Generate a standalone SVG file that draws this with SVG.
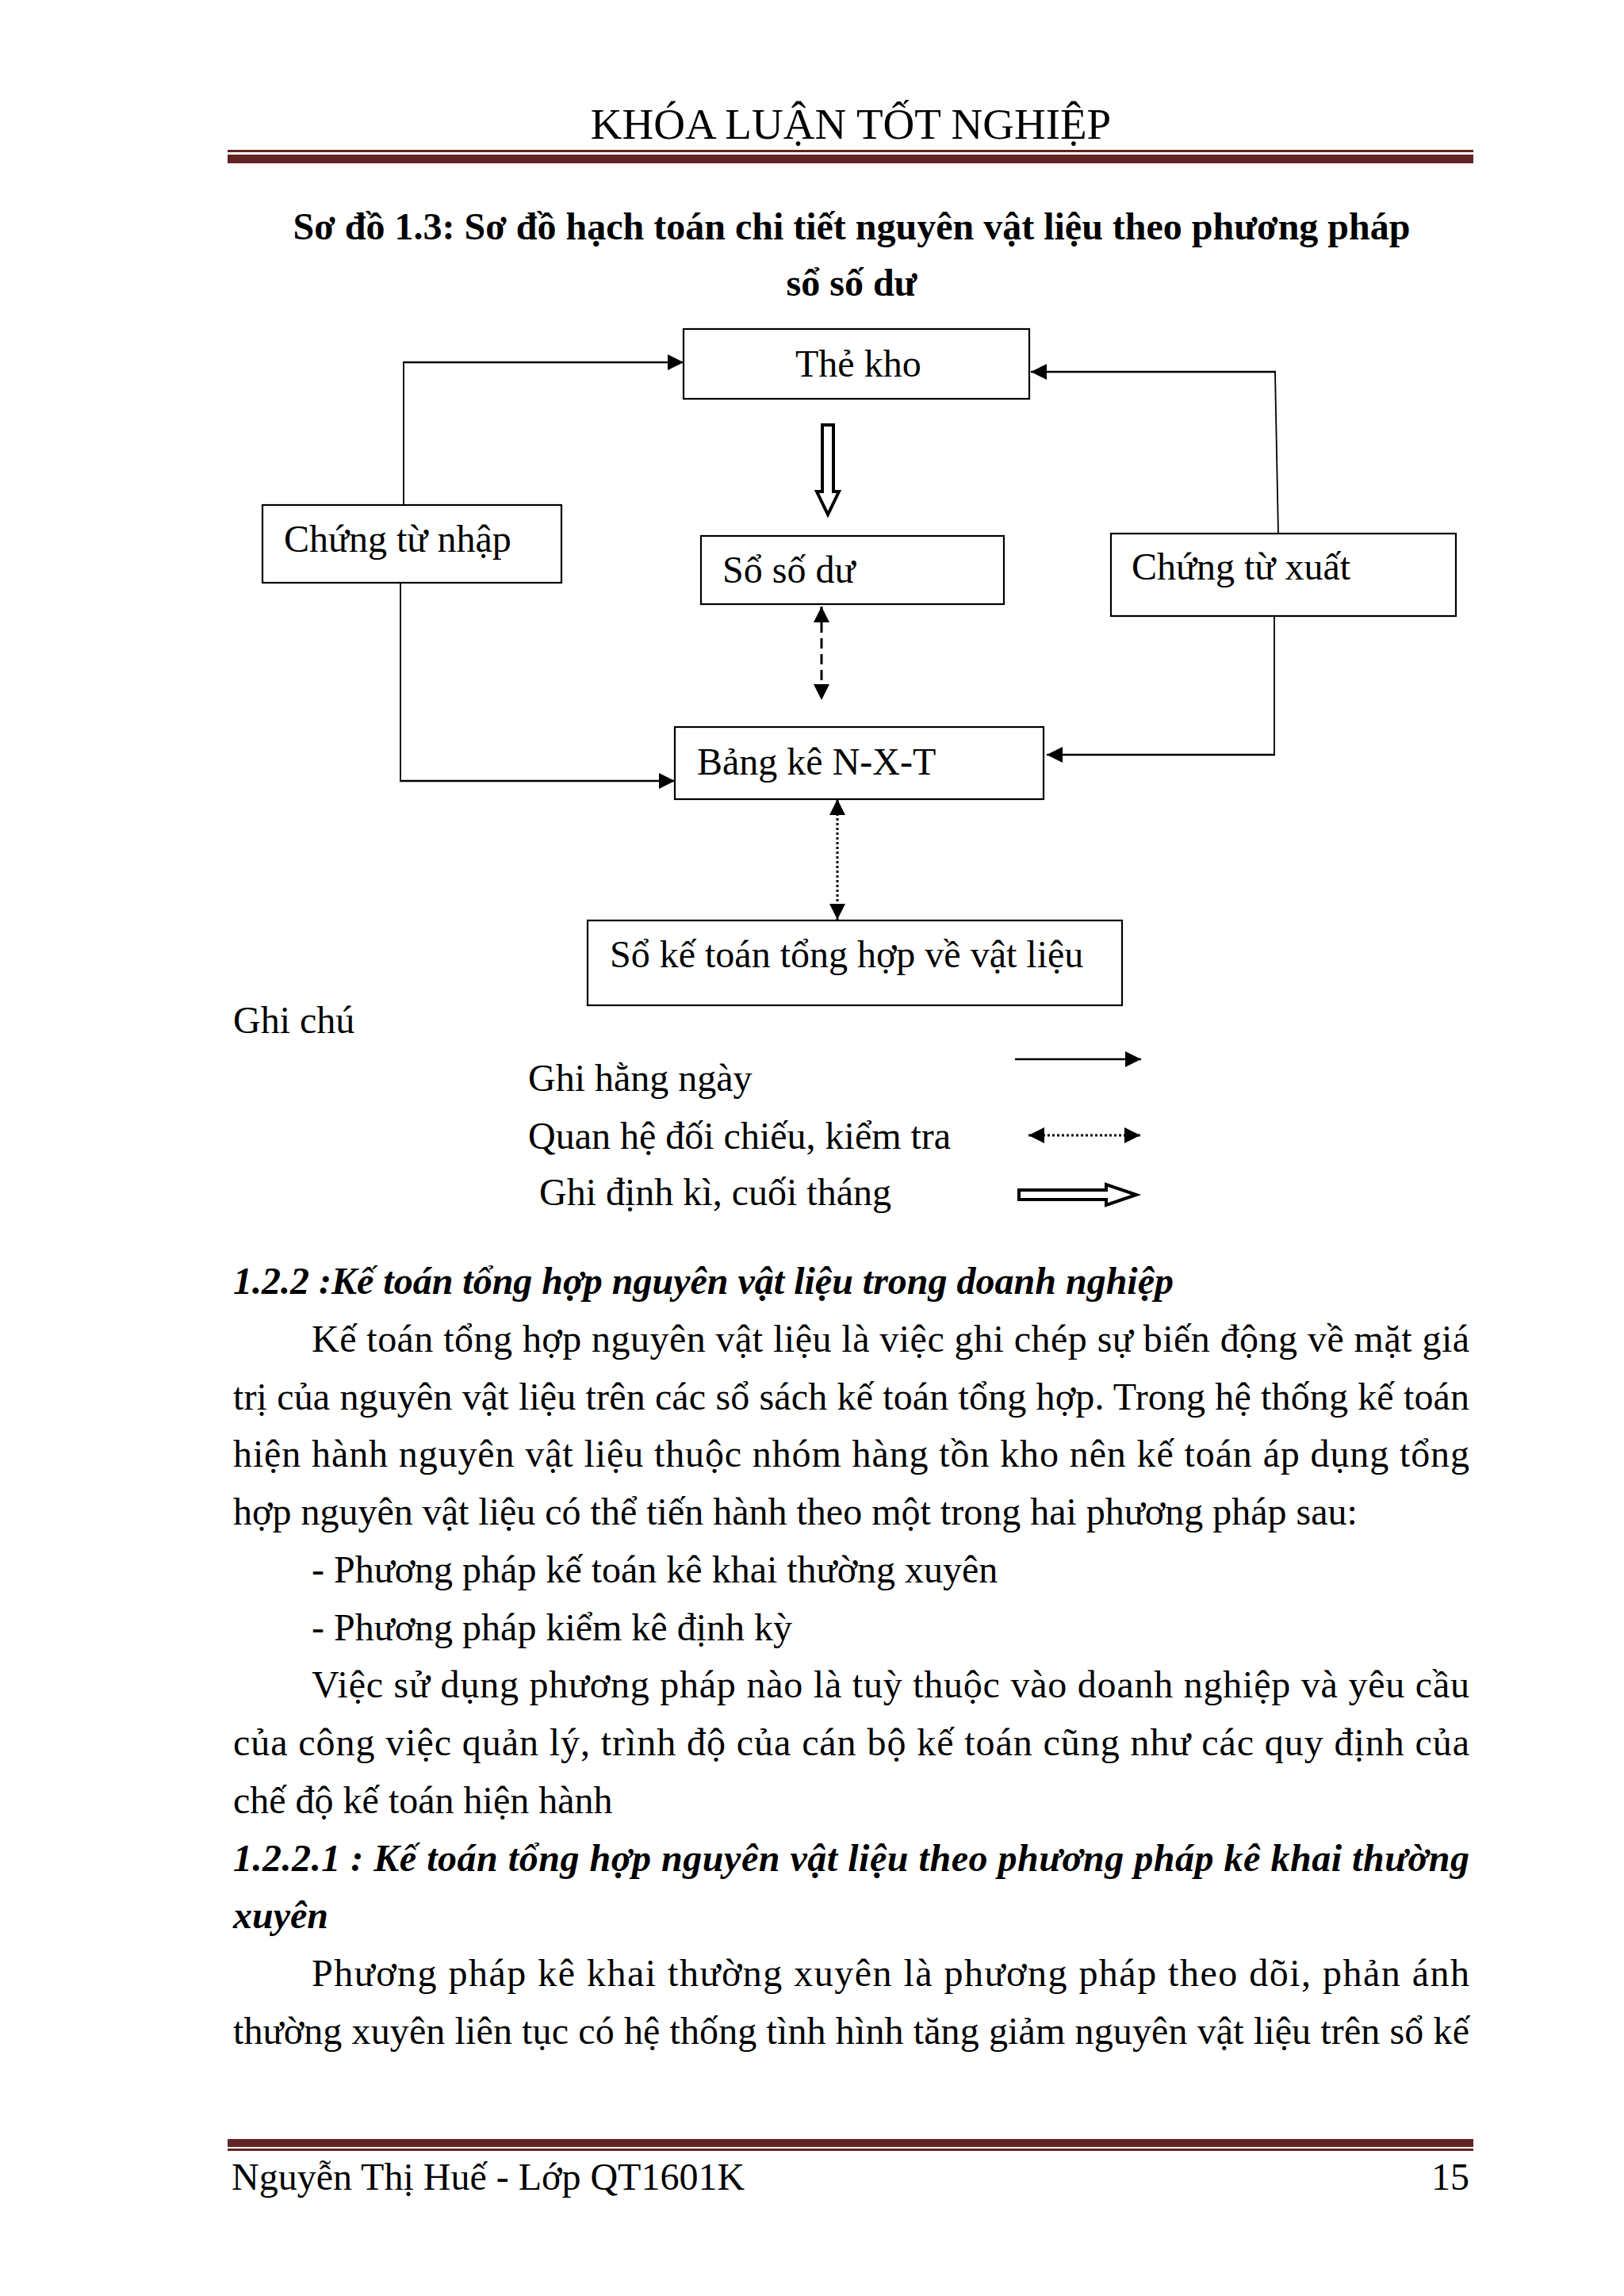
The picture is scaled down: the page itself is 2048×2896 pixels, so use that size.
<svg xmlns="http://www.w3.org/2000/svg" width="2048" height="2896" viewBox="0 0 2048 2896">
<defs>
<style>
.t{font-family:"Liberation Serif","Times New Roman",serif;font-size:48px;fill:#000}
.b{font-weight:bold}
.bi{font-weight:bold;font-style:italic}
.box{fill:#fff;stroke:#000;stroke-width:2.2}
.ln{fill:none;stroke:#000;stroke-width:2.6}
.sl{fill:none;stroke:#000;stroke-width:1.8}
.dash{fill:none;stroke:#000;stroke-width:3;stroke-dasharray:13 7}
.dot{fill:none;stroke:#000;stroke-width:3;stroke-dasharray:3 3}
.hollow{fill:#fff;stroke:#000;stroke-width:4;stroke-linejoin:miter}
.rule{fill:#622423}
</style>
<marker id="ah" markerUnits="userSpaceOnUse" markerWidth="20" markerHeight="20" refX="20" refY="10" orient="auto-start-reverse" viewBox="0 0 20 20">
<path d="M0,0 L20,10 L0,20 z" fill="#000"/>
</marker>
</defs>
<rect width="2048" height="2896" fill="#fff"/>

<!-- header -->
<g id="header">
<text class="t" x="1073" y="175" text-anchor="middle" style="font-size:55px">KHÓA LUẬN TỐT NGHIỆP</text>
<rect class="rule" x="287" y="189" width="1571" height="3"/>
<rect class="rule" x="287" y="195" width="1571" height="11"/>
</g>

<!-- title -->
<g id="title">
<text class="t b" x="1074" y="302" text-anchor="middle">Sơ đồ 1.3: Sơ đồ hạch toán chi tiết nguyên vật liệu theo phương pháp</text>
<text class="t b" x="1074" y="373" text-anchor="middle">sổ số dư</text>
</g>

<!-- connectors -->
<g id="connectors">
<polyline class="sl" points="509,637 509,457"/>
<line class="ln" x1="508" y1="457" x2="862" y2="457" marker-end="url(#ah)"/>
<polyline class="sl" points="1612,673 1608,469"/>
<line class="ln" x1="1609" y1="469" x2="1300" y2="469" marker-end="url(#ah)"/>
<polygon class="hollow" points="1037,536 1051,536 1051,620 1058,620 1044,649 1030,620 1037,620"/>
<line class="dash" x1="1036" y1="765" x2="1036" y2="883" marker-start="url(#ah)" marker-end="url(#ah)"/>
<polyline class="sl" points="505,735 505,985"/>
<line class="ln" x1="504" y1="985" x2="851" y2="985" marker-end="url(#ah)"/>
<polyline class="sl" points="1607,777 1607,952"/>
<line class="ln" x1="1608" y1="952" x2="1320" y2="952" marker-end="url(#ah)"/>
<line class="dot" x1="1056" y1="1008" x2="1056" y2="1160" marker-start="url(#ah)" marker-end="url(#ah)"/>
</g>

<!-- nodes -->
<g id="the-kho">
<rect class="box" x="862" y="415" width="436" height="88"/>
<text class="t" x="1003" y="475">Thẻ kho</text>
</g>
<g id="chung-tu-nhap">
<rect class="box" x="331" y="637" width="377" height="98"/>
<text class="t" x="358" y="696">Chứng từ nhập</text>
</g>
<g id="so-so-du">
<rect class="box" x="884" y="676" width="382" height="86"/>
<text class="t" x="911" y="735">Sổ số dư</text>
</g>
<g id="chung-tu-xuat">
<rect class="box" x="1401" y="673" width="435" height="104"/>
<text class="t" x="1427" y="731">Chứng từ xuất</text>
</g>
<g id="bang-ke">
<rect class="box" x="851" y="917" width="465" height="91"/>
<text class="t" x="879" y="977">Bảng kê N-X-T</text>
</g>
<g id="so-ke-toan">
<rect class="box" x="741" y="1161" width="674" height="107"/>
<text class="t" x="769" y="1220">Sổ kế toán tổng hợp về vật liệu</text>
</g>

<!-- legend -->
<g id="legend">
<text class="t" x="294" y="1303">Ghi chú</text>
<text class="t" x="666" y="1376">Ghi hằng ngày</text>
<text class="t" x="666" y="1449">Quan hệ đối chiếu, kiểm tra</text>
<text class="t" x="680" y="1520">Ghi định kì, cuối tháng</text>
<line class="ln" x1="1280" y1="1336" x2="1439" y2="1336" marker-end="url(#ah)"/>
<line class="dot" x1="1297" y1="1432" x2="1438" y2="1432" marker-start="url(#ah)" marker-end="url(#ah)"/>
<polygon class="hollow" points="1285,1501 1395,1501 1395,1494 1433,1507 1395,1520 1395,1513 1285,1513"/>
</g>

<!-- body text -->
<g id="body">
<text class="t bi" x="294" y="1632">1.2.2 :Kế toán tổng hợp nguyên vật liệu trong doanh nghiệp</text>
<text class="t" x="393" y="1705" textLength="1460" lengthAdjust="spacing">Kế toán tổng hợp nguyên vật liệu là việc ghi chép sự biến động về mặt giá</text>
<text class="t" x="294" y="1778" textLength="1559" lengthAdjust="spacing">trị của nguyên vật liệu trên các sổ sách kế toán tổng hợp. Trong hệ thống kế toán</text>
<text class="t" x="294" y="1850" textLength="1559" lengthAdjust="spacing">hiện hành nguyên vật liệu thuộc nhóm hàng tồn kho nên kế toán áp dụng tổng</text>
<text class="t" x="294" y="1923">hợp nguyên vật liệu có thể tiến hành theo một trong hai phương pháp sau:</text>
<text class="t" x="393" y="1996">- Phương pháp kế toán kê khai thường xuyên</text>
<text class="t" x="393" y="2069">- Phương pháp kiểm kê định kỳ</text>
<text class="t" x="393" y="2141" textLength="1460" lengthAdjust="spacing">Việc sử dụng phương pháp nào là tuỳ thuộc vào doanh nghiệp và yêu cầu</text>
<text class="t" x="294" y="2214" textLength="1559" lengthAdjust="spacing">của công việc quản lý, trình độ của cán bộ kế toán cũng như các quy định của</text>
<text class="t" x="294" y="2287">chế độ kế toán hiện hành</text>
<text class="t bi" x="294" y="2360" textLength="1559" lengthAdjust="spacing">1.2.2.1 : Kế toán tổng hợp nguyên vật liệu theo phương pháp kê khai thường</text>
<text class="t bi" x="294" y="2432">xuyên</text>
<text class="t" x="393" y="2505" textLength="1460" lengthAdjust="spacing">Phương pháp kê khai thường xuyên là phương pháp theo dõi, phản ánh</text>
<text class="t" x="294" y="2578" textLength="1559" lengthAdjust="spacing">thường xuyên liên tục có hệ thống tình hình tăng giảm nguyên vật liệu trên sổ kế</text>
</g>

<!-- footer -->
<g id="footer">
<rect class="rule" x="287" y="2698" width="1571" height="10"/>
<rect class="rule" x="287" y="2710" width="1571" height="3"/>
<text class="t" x="292" y="2762">Nguyễn Thị Huế - Lớp QT1601K</text>
<text class="t" x="1853" y="2762" text-anchor="end">15</text>
</g>
</svg>
